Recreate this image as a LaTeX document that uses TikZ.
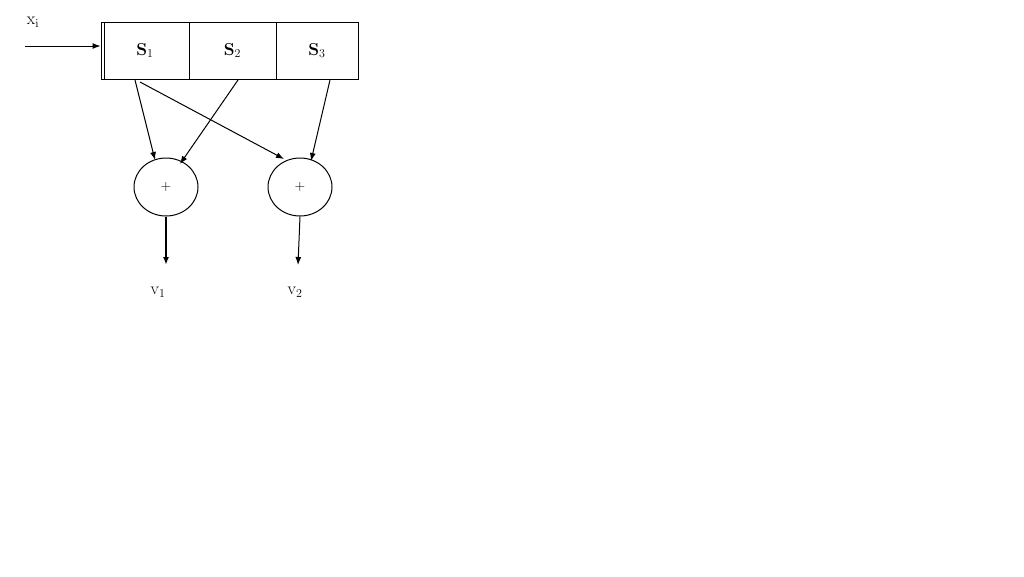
\documentclass[tikz,border=0pt]{standalone}
\usetikzlibrary{shapes.geometric,arrows.meta}
\begin{document}
\begin{tikzpicture}[x=1pt,y=-1pt,>={Latex[length=8pt,width=6pt]},line width=1pt,
  cell/.style={draw,minimum width=87pt,minimum height=57pt,inner sep=0pt,font=\fontsize{18}{18}\selectfont},
  adder/.style={draw,ellipse,minimum width=64pt,minimum height=58pt,inner sep=0pt,font=\fontsize{14}{14}\selectfont},
  lbl/.style={font=\fontsize{18}{18}\selectfont}]
\useasboundingbox (0,0) rectangle (1024,576);
\fill[white] (0,0) rectangle (1024,576);
\node[cell,minimum width=88pt] (s1) at (145,50.5) {$\mathbf{S}_1$};
\node[cell] (s2) at (232.5,50.5) {$\mathbf{S}_2$};
\node[cell,minimum width=82pt] (s3) at (317,50.5) {$\mathbf{S}_3$};
\draw (104,22) -- (104,79);
\coordinate (in) at (25,46);
\node[lbl] (xi) at (33,22) {$\mathrm{x}_\mathrm{i}$};
\draw[->] (in) -- (s1.west |- in);
\node[adder] (a1) at (166,187) {+};
\node[adder] (a2) at (300,187) {+};
\coordinate (t1) at (155,160);
\coordinate (t2) at (180,164);
\coordinate (t3) at (284,159);
\coordinate (t4) at (311,161);
\draw[->] (135,80) -- (t1);
\draw[->] (238,80) -- (t2);
\draw[->] (140,82) -- (t3);
\draw[->] (330,80) -- (t4);
\node[lbl] (v1) at (158,292) {$\mathrm{v}_1$};
\node[lbl] (v2) at (295,292) {$\mathrm{v}_2$};
\draw[->,line width=1.6pt] (a1.south) -- (166,265);
\draw[->] (a2.south) -- (298,265);
\end{tikzpicture}
\end{document}
